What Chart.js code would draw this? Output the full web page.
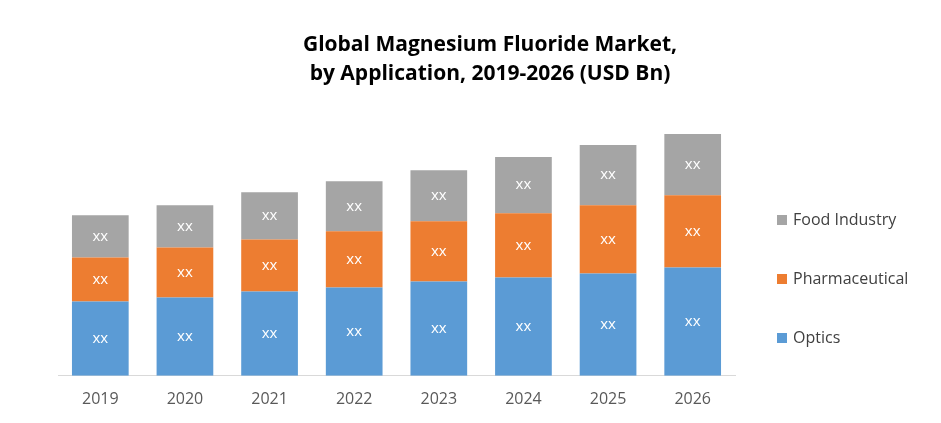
<!DOCTYPE html>
<html><head><meta charset="utf-8">
<script src="https://cdn.jsdelivr.net/npm/chart.js@4/dist/chart.umd.min.js"></script>
<style>html,body{margin:0;padding:0;background:#fff}#w{width:941px;height:423px;position:relative}</style>
</head><body><div id="w"><canvas id="c"></canvas></div>
<script>
const categories=["2019","2020","2021","2022","2023","2024","2025","2026"];
const optics=[74,78,84,88,94,98,102,108];
const pharmaceutical=[44,50,52,56,60,64,68,72];
const foodIndustry=[42,42,47,50,51,56,60,61];
const titleLines=["Global Magnesium Fluoride Market,","by Application, 2019-2026 (USD Bn)"];
const labelText="xx";
const F="'Open Sans', sans-serif";
const labelPlugin={id:"lbl",afterDatasetsDraw(ch){const c=ch.ctx;c.save();c.font="15px "+F;c.fillStyle="#fff";c.textAlign="center";c.textBaseline="middle";
ch.data.datasets.forEach((d,i)=>{ch.getDatasetMeta(i).data.forEach(b=>{c.fillText(labelText,b.x,(b.y+b.base)/2);});});
c.fillStyle="#000";c.font="bold 21px "+F;
titleLines.forEach((t,i)=>c.fillText(t,490,45+i*29));
c.font="16px "+F;c.textAlign="left";
const ds=ch.data.datasets.slice().reverse();
ds.forEach((d,i)=>{const y=220+i*59;c.fillStyle=d.backgroundColor;c.fillRect(777,y-5,10,10);c.fillStyle="#404040";c.fillText(d.label,793,y);});
c.restore();}};
new Chart(document.getElementById("c"),{type:"bar",
data:{labels:categories,datasets:[
{label:"Optics",data:optics,backgroundColor:"#5b9bd5"},
{label:"Pharmaceutical",data:pharmaceutical,backgroundColor:"#ed7d31"},
{label:"Food Industry",data:foodIndustry,backgroundColor:"#a5a5a5"}]},
options:{responsive:true,maintainAspectRatio:false,animation:false,
layout:{padding:{left:58,right:206,top:118,bottom:0}},
datasets:{bar:{categoryPercentage:0.67,barPercentage:1}},
plugins:{title:{display:false},legend:{display:false},tooltip:{enabled:false}},
scales:{x:{stacked:true,grid:{display:false,drawTicks:false},border:{color:"#d9d9d9"},ticks:{color:"#595959",padding:14,font:{family:F,size:16}}},
y:{stacked:true,display:false,min:0,max:257}}},plugins:[labelPlugin]});
</script></body></html>
